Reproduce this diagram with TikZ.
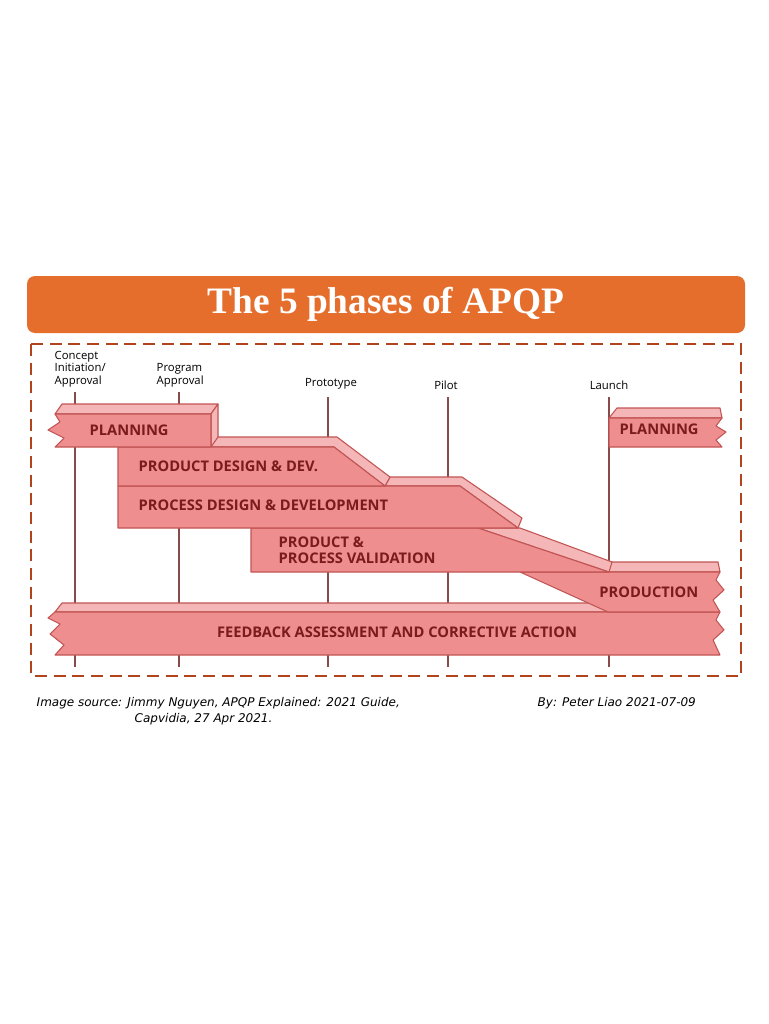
\documentclass[tikz,border=0pt]{standalone}
\usepackage{fontspec}
\setmainfont{Open Sans}
\newfontfamily\titlefont{Liberation Serif}
\newfontfamily\handfont{DejaVu Sans}
\begin{document}
\begin{tikzpicture}[x=0.75pt,y=-0.75pt,
  front/.style={fill=bandf,draw=bande,line width=0.8pt,line join=round},
  topf/.style={fill=bandt,draw=bande,line width=0.8pt,line join=round},
  vline/.style={draw=vl,line width=0.9pt},
  band/.style={font=\bfseries\fontsize{11}{12}\selectfont,text=bandtxt,align=left},
  mile/.style={font=\fontsize{8.5}{9.5}\selectfont,text=black,align=left},
  foot/.style={font=\handfont\itshape\fontsize{9}{11}\selectfont,text=black,anchor=west}]
\definecolor{orng}{HTML}{E56E2C}
\definecolor{dashc}{HTML}{B2441D}
\definecolor{bandf}{HTML}{EE8E8E}
\definecolor{bandt}{HTML}{F4B6B6}
\definecolor{bande}{HTML}{C25454}
\definecolor{bandtxt}{HTML}{7A1C1C}
\definecolor{vl}{HTML}{8A4A4A}
\useasboundingbox (0,0) rectangle (768,1024);
\fill[white] (0,0) rectangle (768,1024);
% header
\fill[orng,rounded corners=6pt] (27,276) rectangle (745,333);
\node[text=white,font=\titlefont\bfseries\fontsize{28}{30}\selectfont] (title) at (386,304) {The 5 phases of APQP};
\draw[dashc,line width=2.2pt,dash pattern=on 9pt off 5pt] (31,344) rectangle (741,676);
% milestones
\node[mile,anchor=south west] (m1) at (50,392) {Concept\\Initiation/\\Approval};
\node[mile,anchor=south west] (m2) at (152,392) {Program\\Approval};
\node[mile,anchor=south] (m3) at (331,394) {Prototype};
\node[mile,anchor=south] (m4) at (446,394) {Pilot};
\node[mile,anchor=south] (m5) at (609,394) {Launch};
\draw[vline] (75,392) -- (75,667);
\draw[vline] (179,392) -- (179,667);
\draw[vline] (328,397) -- (328,667);
\draw[vline] (448,397) -- (448,667);
\draw[vline] (609,397) -- (609,667);
% feedback
\draw[topf] (62,603) -- (600,603) -- (608,612) -- (55,612) -- cycle;
\draw[front] (55,612) -- (720,612) -- (716,620) -- (724,630) -- (713,640) -- (720,655) -- (55,655) -- (64,645) -- (50,634) -- (60,624) -- (48,618) -- cycle;
% production
\draw[topf] (609,562) -- (718,562) -- (720,572) -- (609,572) -- cycle;
\draw[front] (520,572) -- (720,572) -- (716,580) -- (724,590) -- (713,600) -- (720,612) -- (608,612) -- cycle;
% product & process validation
\draw[topf] (478,528) -- (520,528) -- (612,562) -- (609,572) -- cycle;
\draw[front] (251,528) -- (478,528) -- (609,572) -- (251,572) -- cycle;
% process design
\draw[topf] (390,477) -- (462,477) -- (522,518) -- (518,528) -- (460,486) -- (385,486) -- cycle;
\draw[front] (118,486) -- (460,486) -- (518,528) -- (118,528) -- cycle;
% product design
\draw[topf] (211,437) -- (337,437) -- (390,477) -- (385,486) -- (334,447) -- (211,447) -- cycle;
\draw[front] (118,447) -- (334,447) -- (385,486) -- (118,486) -- cycle;
% planning left
\draw[topf] (62,404) -- (218,404) -- (211,414) -- (55,414) -- cycle;
\draw[topf] (211,414) -- (218,404) -- (218,437) -- (211,447) -- cycle;
\draw[front] (55,414) -- (211,414) -- (211,447) -- (55,447) -- (64,438) -- (48,430) -- (60,422) -- cycle;
% planning right
\draw[topf] (609,418) -- (617,408) -- (720,408) -- (722,418) -- cycle;
\draw[front] (609,418) -- (722,418) -- (716,426) -- (726,432) -- (716,440) -- (722,447) -- (609,447) -- cycle;
% labels
\node[band,anchor=west] (t1) at (85,430) {PLANNING};
\node[band,anchor=west] (t2) at (134,466) {PRODUCT DESIGN \& DEV.};
\node[band,anchor=west] (t3) at (134,505) {PROCESS DESIGN \& DEVELOPMENT};
\node[band,anchor=west] (t4) at (274,550) {PRODUCT \&\\PROCESS VALIDATION};
\node[band,anchor=east] (t5) at (703,592) {PRODUCTION};
\node[band] (t6) at (397,632) {FEEDBACK ASSESSMENT AND CORRECTIVE ACTION};
\node[band,anchor=west] (t7) at (615,429) {PLANNING};
% footer
\node[foot] (f1) at (32,703) {Image source: Jimmy Nguyen, APQP Explained: 2021 Guide,};
\node[foot] (f2) at (130,719) {Capvidia, 27 Apr 2021.};
\node[foot] (f3) at (533,703) {By: Peter Liao 2021-07-09};
\end{tikzpicture}
\end{document}
